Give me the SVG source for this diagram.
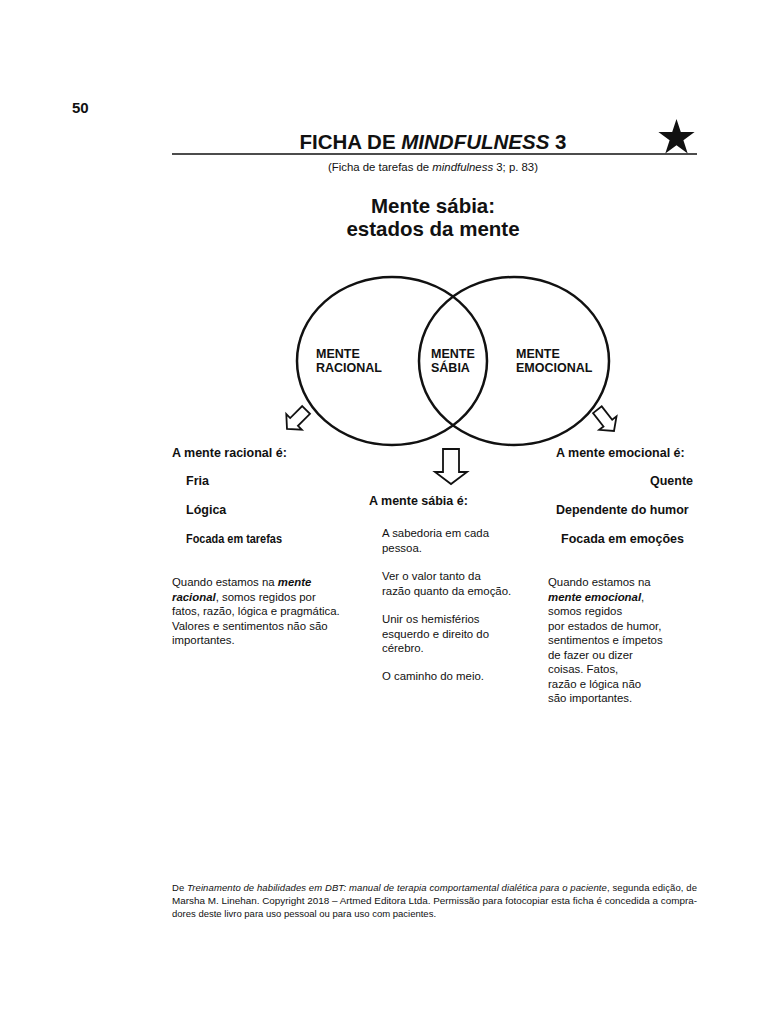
<svg xmlns="http://www.w3.org/2000/svg" width="768" height="1024" viewBox="0 0 768 1024">
<style>
text{font-family:"Liberation Sans",Arial,sans-serif;fill:#111}
.b{font-weight:bold}
.bi{font-weight:bold;font-style:italic}
.i{font-style:italic}
.lbl{font-size:12.5px;font-weight:bold}
.body{font-size:11.4px}
.foot{font-size:9.5px}
.circ{fill:none;stroke:#111;stroke-width:2.5}
.arr{fill:#fff;stroke:#111;stroke-width:1.8;stroke-linejoin:miter}
</style>
<defs>
<path id="small-arrow" d="M -5.5,-27 L 5.5,-27 L 5.5,-10 L 11,-10 L 0,0 L -11,-10 L -5.5,-10 Z"/>
</defs>
<rect width="768" height="1024" fill="#fff"/>
<g id="header">
<text x="72" y="113" class="b" style="font-size:15px">50</text>
<text x="433" y="149" text-anchor="middle" class="b" style="font-size:20.5px">FICHA DE <tspan class="bi">MINDFULNESS</tspan> 3</text>
<path d="M 676.5,119 L 680.8,132.1 L 694.6,132.1 L 683.4,140.3 L 687.7,153.4 L 676.5,145.3 L 665.3,153.4 L 669.6,140.3 L 658.4,132.1 L 672.2,132.1 Z" fill="#111"/>
<line x1="172" y1="154" x2="697" y2="154" stroke="#111" stroke-width="1.3"/>
<text x="433" y="171" text-anchor="middle" style="font-size:11px" textLength="210" lengthAdjust="spacingAndGlyphs">(Ficha de tarefas de <tspan class="i">mindfulness</tspan> 3; p. 83)</text>
<text x="433" y="213" text-anchor="middle" class="b" style="font-size:20.5px">Mente sábia:</text>
<text x="433" y="236" text-anchor="middle" class="b" style="font-size:20.5px">estados da mente</text>
</g>
<g id="node-racional">
<ellipse cx="392" cy="361" rx="95" ry="84" class="circ"/>
<text class="lbl"><tspan x="316" y="358">MENTE</tspan><tspan x="316" y="372">RACIONAL</tspan></text>
</g>
<g id="node-emocional">
<ellipse cx="514" cy="361" rx="95" ry="84" class="circ"/>
<text class="lbl"><tspan x="516" y="358">MENTE</tspan><tspan x="516" y="372">EMOCIONAL</tspan></text>
</g>
<g id="node-sabia">
<text class="lbl"><tspan x="431" y="358">MENTE</tspan><tspan x="431" y="372">SÁBIA</tspan></text>
</g>
<g id="connectors">
<use href="#small-arrow" class="arr" transform="translate(287,429) rotate(45)"/>
<use href="#small-arrow" class="arr" transform="translate(614,431) rotate(-38)"/>
<path class="arr" d="M 443,449 L 459,449 L 459,472 L 467,472 L 451,484 L 435,472 L 443,472 Z"/>
</g>
<g id="col-racional">
<text x="172" y="457" class="lbl">A mente racional é:</text>
<text x="186" y="485" class="lbl">Fria</text>
<text x="186" y="514" class="lbl">Lógica</text>
<text x="186" y="543" class="lbl" textLength="96" lengthAdjust="spacingAndGlyphs">Focada em tarefas</text>
<text class="body">
<tspan x="172" y="586">Quando estamos na <tspan class="bi">mente</tspan></tspan>
<tspan x="172" y="600.5"><tspan class="bi">racional</tspan>, somos regidos por</tspan>
<tspan x="172" y="615">fatos, razão, lógica e pragmática.</tspan>
<tspan x="172" y="629.5">Valores e sentimentos não são</tspan>
<tspan x="172" y="644">importantes.</tspan>
</text>
</g>
<g id="col-sabia">
<text x="369" y="505" class="lbl">A mente sábia é:</text>
<text class="body">
<tspan x="382" y="537">A sabedoria em cada</tspan>
<tspan x="382" y="551.5">pessoa.</tspan>
<tspan x="382" y="580">Ver o valor tanto da</tspan>
<tspan x="382" y="594.5">razão quanto da emoção.</tspan>
<tspan x="382" y="623">Unir os hemisférios</tspan>
<tspan x="382" y="637.5">esquerdo e direito do</tspan>
<tspan x="382" y="652">cérebro.</tspan>
<tspan x="382" y="680">O caminho do meio.</tspan>
</text>
</g>
<g id="col-emocional">
<text x="556" y="457" class="lbl">A mente emocional é:</text>
<text x="693" y="485" class="lbl" text-anchor="end">Quente</text>
<text x="556" y="514" class="lbl">Dependente do humor</text>
<text x="561" y="543" class="lbl">Focada em emoções</text>
<text class="body">
<tspan x="548" y="586">Quando estamos na</tspan>
<tspan x="548" y="600.5"><tspan class="bi">mente emocional</tspan>,</tspan>
<tspan x="548" y="615">somos regidos</tspan>
<tspan x="548" y="629.5">por estados de humor,</tspan>
<tspan x="548" y="644">sentimentos e ímpetos</tspan>
<tspan x="548" y="658.5">de fazer ou dizer</tspan>
<tspan x="548" y="673">coisas. Fatos,</tspan>
<tspan x="548" y="687.5">razão e lógica não</tspan>
<tspan x="548" y="702">são importantes.</tspan>
</text>
</g>
<g id="footer">
<text x="172" y="891" class="foot" textLength="525" lengthAdjust="spacing">De <tspan class="i">Treinamento de habilidades em DBT: manual de terapia comportamental dialética para o paciente</tspan>, segunda edição, de</text>
<text x="172" y="904" class="foot" textLength="525" lengthAdjust="spacingAndGlyphs">Marsha M. Linehan. Copyright 2018 – Artmed Editora Ltda. Permissão para fotocopiar esta ficha é concedida a compra-</text>
<text x="172" y="917" class="foot">dores deste livro para uso pessoal ou para uso com pacientes.</text>
</g>
</svg>
